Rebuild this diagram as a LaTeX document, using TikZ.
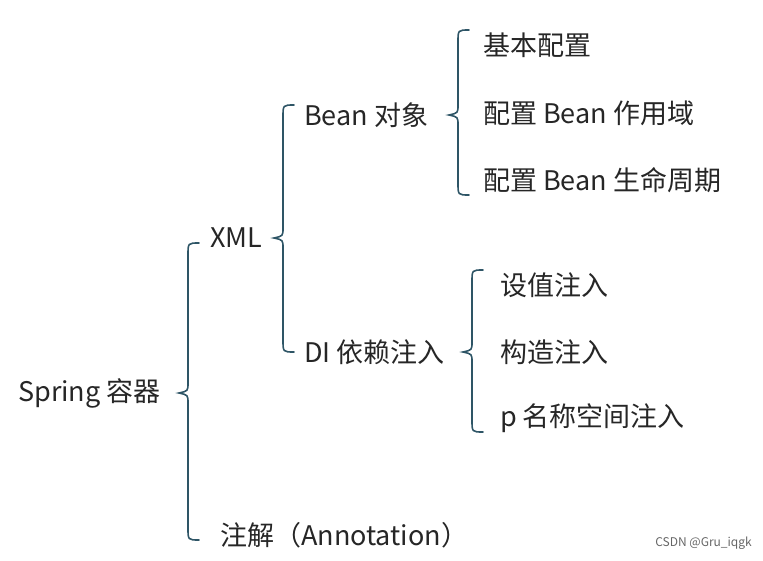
\documentclass[tikz,border=0pt]{standalone}
\usepackage{fontspec}
\setmainfont{Noto Sans CJK SC}
\definecolor{br}{HTML}{2E5566}
\begin{document}
\begin{tikzpicture}[x=1pt,y=-1pt,
  lbl/.style={anchor=west,inner sep=0pt,font=\fontsize{27}{30}\selectfont,text=black!85},
  brc/.style={draw=br,line width=1.6pt,line cap=round}]
\useasboundingbox (0,0) rectangle (763,560);
\def\brace#1#2#3#4{% x, top, mid, bottom
  \draw[brc] ({#1+11},#2) .. controls (#1,#2) .. (#1,{#2+12}) -- (#1,{#3-10})
    .. controls (#1,{#3-2}) .. ({#1-9},#3) .. controls (#1,{#3+2}) .. (#1,{#3+10})
    -- (#1,{#4-12}) .. controls (#1,#4) .. ({#1+11},#4);}
\node[lbl] (spring) at (18,393) {Spring 容器};
\node[lbl] (xml) at (210,238) {XML};
\node[lbl] (ann) at (220,535) {注解（Annotation）};
\node[lbl] (bean) at (304,115) {Bean 对象};
\node[lbl] (di) at (304,352) {DI 依赖注入};
\node[lbl] (b1) at (483,45) {基本配置};
\node[lbl] (b2) at (483,113) {配置 Bean 作用域};
\node[lbl] (b3) at (483,180) {配置 Bean 生命周期};
\node[lbl] (d1) at (500,285) {设值注入};
\node[lbl] (d2) at (500,352) {构造注入};
\node[lbl] (d3) at (500,418) {p 名称空间注入};
\node[anchor=east,inner sep=0pt,font=\fontsize{12}{14}\selectfont,text=black!60] (wm) at (752,543) {CSDN @Gru\_iqgk};
\brace{188}{243}{393}{540}
\brace{283}{105}{238}{352}
\brace{458}{30}{115}{195}
\brace{472}{270}{352}{432}
\end{tikzpicture}
\end{document}
